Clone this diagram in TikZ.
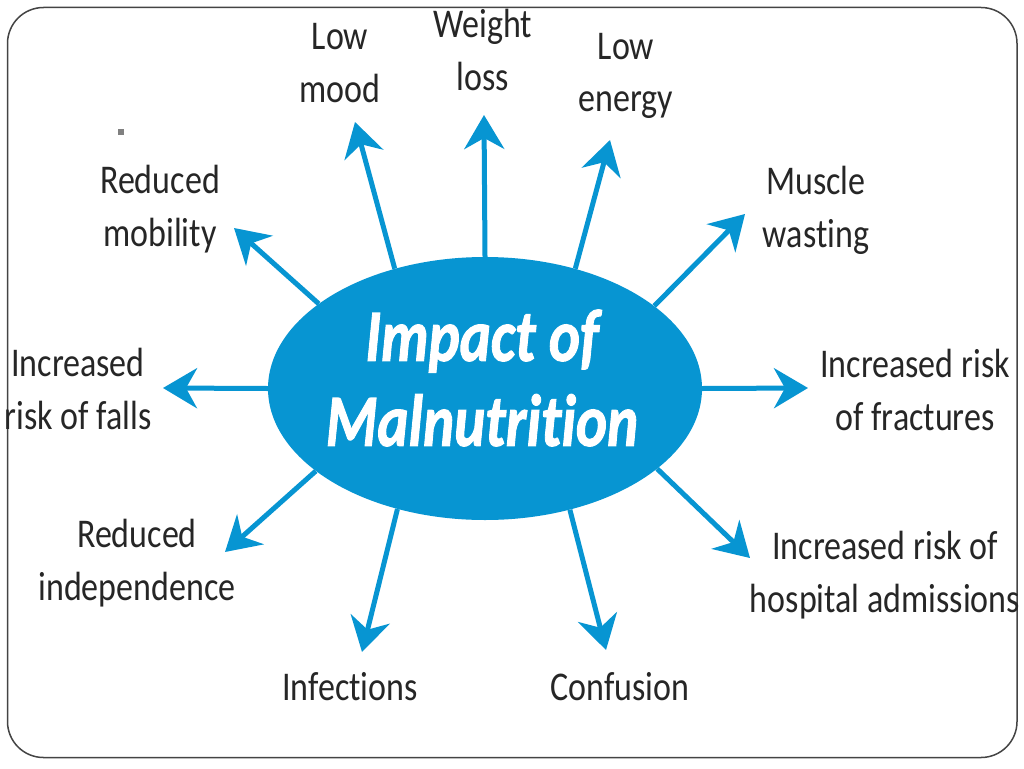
\documentclass[tikz,border=0pt]{standalone}
\usepackage{fontspec}
\setmainfont{Carlito}[Ligatures=NoCommon,BoldItalicFeatures={FakeBold=1.5}]
\usetikzlibrary{arrows.meta,shapes.geometric}
\definecolor{mblue}{HTML}{0795D2}
\definecolor{frameg}{HTML}{444444}
\tikzset{
  lab/.style={font=\fontsize{34}{44}\selectfont,text=black!85,align=center,inner sep=0pt,yscale=1.2,transform shape},
  ttl/.style={font=\fontsize{59}{69}\selectfont\bfseries\itshape,text=white,align=center,inner sep=0pt,yscale=1.25,transform shape},
  arr/.style={draw=mblue,line width=5pt,-{Stealth[length=34pt,width=40pt,inset=11pt]}},
  hub/.style={ellipse,fill=mblue,minimum width=434pt,minimum height=263pt,inner sep=0pt}
}
\begin{document}
\begin{tikzpicture}[x=1pt,y=-1pt]
\useasboundingbox (0,0) rectangle (1024,768);
\fill[white] (0,0) rectangle (1024,768);
\draw[frameg,line width=1.5pt,rounded corners=36pt] (7.5,7.5) rectangle (1017,757.5);
\node[hub] (main) at (485,388.5) {};
\node[ttl] (title) at (482,378) {Impact of\\[-1pt]Malnutrition};
\fill[gray] (118,129) rectangle (124,135);
\coordinate (t1) at (355,122);
\coordinate (t2) at (484,115);
\coordinate (t3) at (610,140);
\coordinate (t4) at (745,214);
\coordinate (t5) at (808,388);
\coordinate (t6) at (750,558);
\coordinate (t7) at (606,650);
\coordinate (t8) at (362,652);
\coordinate (t9) at (225,552);
\coordinate (t10) at (163,388);
\coordinate (t11) at (234,228);
\draw[arr] (main.127.4) -- (t1);
\draw[arr] (main.90) -- (t2);
\draw[arr] (main.53.6) -- (t3);
\draw[arr] (main.26.3) -- (t4);
\draw[arr] (main.0) -- (t5);
\draw[arr] (main.-25.4) -- (t6);
\draw[arr] (main.-55.5) -- (t7);
\draw[arr] (main.-126) -- (t8);
\draw[arr] (main.-154.6) -- (t9);
\draw[arr] (main.180) -- (t10);
\draw[arr] (main.153.7) -- (t11);
\node[lab] (n1) at (340,63) {Low\\mood};
\node[lab] (n2) at (483,50) {Weight\\loss};
\node[lab] (n3) at (626,76) {Low\\energy};
\node[lab] (n4) at (816,210) {Muscle\\wasting};
\node[lab] (n5) at (915,390) {Increased risk\\of fractures};
\node[lab] (n6) at (885,575) {Increased risk of\\hospital admissions};
\node[lab] (n7) at (620,687) {Confusion};
\node[lab] (n8) at (350,687) {Infections};
\node[lab] (n9) at (137,563) {Reduced\\independence};
\node[lab] (n10) at (78,389) {Increased\\risk of falls};
\node[lab] (n11) at (160,209) {Reduced\\mobility};
\end{tikzpicture}
\end{document}
